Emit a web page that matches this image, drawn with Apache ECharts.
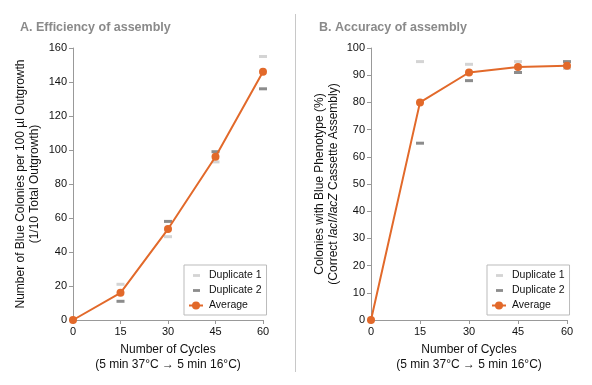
<!DOCTYPE html>
<html><head><meta charset="utf-8">
<script src="https://cdn.jsdelivr.net/npm/echarts@6/dist/echarts.min.js"></script>
<style>html,body{margin:0;padding:0;background:#fff}#c{width:592px;height:385px}</style>
</head><body><div id="c"></div>
<script>
var cycles = [0, 15, 30, 45, 60];
var effDup1 = [0, 21, 49, 93, 155];
var effDup2 = [0, 11, 58, 99, 136];
var effAvg = [0, 16, 53.5, 96, 146];
var accDup1 = [0, 95, 94, 95, 92.5];
var accDup2 = [0, 65, 88, 91, 95];
var accAvg = [0, 80, 91, 93, 93.5];
var xTicks = [0, 15, 30, 45, 60];

var FONT = 'Liberation Sans, Arial, sans-serif';
var ORANGE = '#e2692a', LIGHT = '#c9c9c9', DARK = '#6f6f6f';
function pairs(xs, ys) { return xs.map(function (x, i) { return [x, ys[i]]; }); }

var chart = echarts.init(document.getElementById('c'), null, {renderer: 'canvas'});
var axisCommon = {
  axisLine: {show: true, lineStyle: {color: '#999', width: 1}},
  axisTick: {show: true, length: 4, lineStyle: {color: '#999'}},
  axisLabel: {color: '#111', fontSize: 11, fontFamily: FONT, margin: 6},
  splitLine: {show: false}
};
function xAxis(idx) {
  return Object.assign({}, axisCommon, {
    type: 'value', gridIndex: idx, min: 0, max: 60, interval: 15,
    name: 'Number of Cycles\n(5 min 37°C → 5 min 16°C)', nameLocation: 'middle', nameGap: 21,
    nameTextStyle: {color: '#111', fontSize: 12, fontFamily: FONT, lineHeight: 15, verticalAlign: 'top'}
  });
}
var dashSym = 'path://M0,0M14,10M4,3.6H11V6.4H4Z';
function legend(left, top) {
  return {
    left: left, top: top, orient: 'vertical', itemGap: 4, itemWidth: 14, itemHeight: 10,
    borderColor: '#bbb', borderWidth: 1, padding: [5, 5, 4, 4],
    textStyle: {fontSize: 10.5, fontFamily: FONT, color: '#111', padding: [0, 0, 0, 1]},
    data: [{name: 'Duplicate 1', icon: dashSym}, {name: 'Duplicate 2', icon: dashSym}, {name: 'Average'}]
  };
}
function dupSeries(name, color, idx, xs, ys) {
  return {
    name: name, type: 'scatter', xAxisIndex: idx, yAxisIndex: idx,
    symbol: 'rect', symbolSize: [8, 3], itemStyle: {color: color}, z: 2,
    data: pairs(xs, ys).slice(1)
  };
}
chart.setOption({
  animation: false,
  title: [
    {text: 'A. Efficiency of assembly', left: 15, top: 16, textStyle: {color: '#8a8a8a', fontSize: 12.5, fontWeight: 'bold', fontFamily: FONT}},
    {text: 'B. Accuracy of assembly', left: 314, top: 16, textStyle: {color: '#8a8a8a', fontSize: 12.5, fontWeight: 'bold', fontFamily: FONT}}
  ],
  legend: [legend(184, 265), legend(487, 265)],
  grid: [
    {left: 73, top: 48, width: 190, height: 272},
    {left: 371, top: 48, width: 196, height: 272}
  ],
  xAxis: [xAxis(0), xAxis(1)],
  yAxis: [
    Object.assign({}, axisCommon, {
      type: 'value', gridIndex: 0, min: 0, max: 160, interval: 20,
      name: 'Number of Blue Colonies per 100 µl Outgrowth\n(1/10 Total Outgrowth)',
      nameLocation: 'middle', nameGap: 31, nameRotate: 90,
      nameTextStyle: {color: '#111', fontSize: 12, fontFamily: FONT, lineHeight: 14}
    }),
    Object.assign({}, axisCommon, {
      type: 'value', gridIndex: 1, min: 0, max: 100, interval: 10,
      name: '{n|Colonies with Blue Phenotype (%)}\n{n|(Correct }{i|lacI/lacZ}{n| Cassette Assembly)}',
      nameLocation: 'middle', nameGap: 30, nameRotate: 90,
      nameTextStyle: {color: '#111', fontSize: 12, fontFamily: FONT, lineHeight: 14,
        rich: {n: {fontSize: 12, fontFamily: FONT, color: '#111', lineHeight: 14},
               i: {fontSize: 12, fontFamily: FONT, color: '#111', fontStyle: 'italic', lineHeight: 14}}}
    })
  ],
  graphic: [{type: 'line', shape: {x1: 295.5, y1: 14, x2: 295.5, y2: 372}, style: {stroke: '#c8c8c8', lineWidth: 1}}],
  series: [
    dupSeries('Duplicate 1', LIGHT, 0, cycles, effDup1),
    dupSeries('Duplicate 2', DARK, 0, cycles, effDup2),
    {name: 'Average', type: 'line', xAxisIndex: 0, yAxisIndex: 0, data: pairs(cycles, effAvg),
     symbol: 'circle', symbolSize: 8, lineStyle: {color: ORANGE, width: 2}, itemStyle: {color: ORANGE}, z: 3},
    dupSeries('Duplicate 1', LIGHT, 1, cycles, accDup1),
    dupSeries('Duplicate 2', DARK, 1, cycles, accDup2),
    {name: 'Average', type: 'line', xAxisIndex: 1, yAxisIndex: 1, data: pairs(cycles, accAvg),
     symbol: 'circle', symbolSize: 8, lineStyle: {color: ORANGE, width: 2}, itemStyle: {color: ORANGE}, z: 3}
  ]
});
</script></body></html>
